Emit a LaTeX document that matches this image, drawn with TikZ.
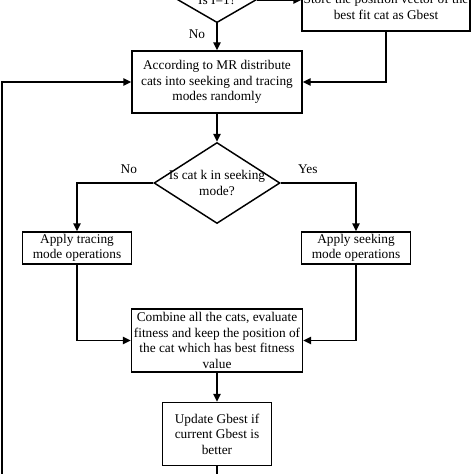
\documentclass[tikz,border=0pt]{standalone}
\usepackage{fontspec}
\setmainfont{Liberation Serif}
\usetikzlibrary{shapes.geometric,positioning,calc,arrows.meta}
\tikzset{PROCESS/.style={rectangle,draw,line width=1.1pt,align=center,inner sep=0pt,font=\fontsize{10}{11.6}\selectfont}}
\tikzset{DECISION/.style={diamond,draw,line width=1.1pt,inner sep=0pt}}
\tikzset{ARROW/.style={line width=1.1pt,-{Triangle[length=6pt,width=5.5pt]}}}
\tikzset{LINE/.style={line width=1.1pt}}
\tikzset{LABEL/.style={font=\fontsize{10}{11.6}\selectfont,align=center}}

\begin{document}
\begin{tikzpicture}[x=0.75pt,y=-0.75pt]
\useasboundingbox (0,0) rectangle (474,474);
\clip (0,0) rectangle (474,474);

\node[DECISION, minimum width=58.5pt, minimum height=34pt] (n_first) at (217,0) {};
\node[LABEL] (t_first) at (n_first) {Is I=1?};
\node[PROCESS, minimum width=126pt, minimum height=36pt] (n_store) at (386,7) {Store the position vector of the\\best fit cat as Gbest};

\node[PROCESS, minimum width=127.5pt, minimum height=46.5pt] (n_main) at (217,82) {According to MR distribute\\cats into seeking and tracing\\modes randomly};

\draw[ARROW] (n_first.south) -- (n_main.north) node[LABEL, pos=0.4, left=5pt]{No};
\draw[ARROW] (n_first.east) -- (n_first.east-|n_store.west);
\draw[ARROW] (n_store.south) |- (n_main.east);

\coordinate (c_loop) at (2,480);
\draw[ARROW] (c_loop) |- (n_main.west);

\node[DECISION, minimum width=94.5pt, minimum height=60.75pt] (n_mode) at (217,183) {};
\node[LABEL] (t_mode) at (n_mode) {Is cat k in seeking\\mode?};
\draw[ARROW] (n_main.south) -- (n_mode.north);

\node[PROCESS, minimum width=81.75pt, minimum height=24pt] (n_trace) at (77,248) {Apply tracing\\mode operations};
\node[PROCESS, minimum width=81.75pt, minimum height=24pt] (n_seek) at (356,248) {Apply seeking\\mode operations};

\draw[ARROW] (n_mode.west) -| (n_trace.north) node[LABEL, pos=0.16, above=3pt]{No};
\draw[ARROW] (n_mode.east) -| (n_seek.north) node[LABEL, pos=0.18, above=3pt]{Yes};

\node[PROCESS, minimum width=128.25pt, minimum height=47.25pt] (n_combine) at (217,340.5) {Combine all the cats, evaluate\\fitness and keep the position of\\the cat which has best fitness\\value};
\draw[ARROW] (n_trace.south) |- (n_combine.west);
\draw[ARROW] (n_seek.south) |- (n_combine.east);

\node[PROCESS, minimum width=82pt, minimum height=47.25pt] (n_update) at (217,434) {Update Gbest if\\current Gbest is\\better};
\draw[ARROW] (n_combine.south) -- (n_update.north);

\coordinate (c_next) at (217,480);
\draw[LINE] (n_update.south) -- (c_next);

\end{tikzpicture}
\end{document}
